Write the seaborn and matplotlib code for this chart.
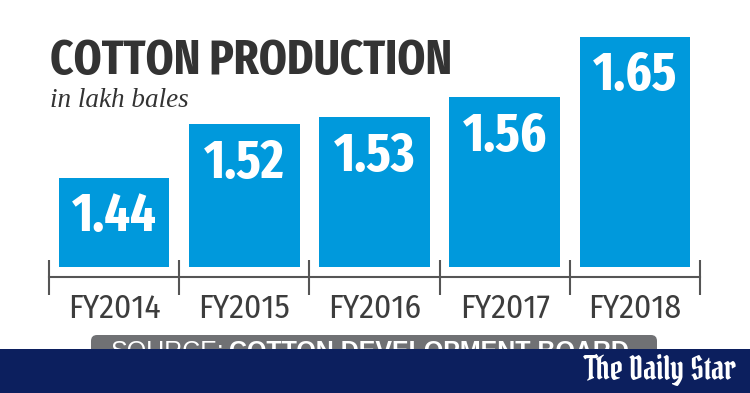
import matplotlib.pyplot as plt
import numpy as np
import seaborn as sns
from matplotlib.patches import FancyBboxPatch, Rectangle

years = ["FY2014", "FY2015", "FY2016", "FY2017", "FY2018"]
production = [1.44, 1.52, 1.53, 1.56, 1.65]
value_labels = ["1.44", "1.52", "1.53", "1.56", "1.65"]

BLUE = "#0099dc"
DARK = "#333333"
AXIS = "#555555"
NAVY = "#0c1f5e"
CONDENSED = ["Fira Sans Condensed", "Roboto Condensed", "DejaVu Sans"]
XCONDENSED = ["Fira Sans Extra Condensed", "Fira Sans Condensed", "DejaVu Sans"]
SERIF = ["Liberation Serif", "DejaVu Serif"]
SANS = ["Liberation Sans", "DejaVu Sans"]

sns.set_style("white")
plt.rcParams["font.family"] = CONDENSED

W, H = 750, 393
fig = plt.figure(figsize=(W / 100, H / 100), dpi=100)
fig.patch.set_facecolor("white")

# axes spans from first tick to last tick, bars sit on the axes bottom
ax = fig.add_axes([49 / W, 1 - 267 / H, 651 / W, 267 / H])
sns.barplot(x=years, y=production, color=BLUE, saturation=1, width=0.85,
            linewidth=0, ax=ax)
ax.set_xlim(-0.5, len(years) - 0.5)
ax.set_ylim(1.307, 1.705)
ax.set_facecolor("none")

for s in ["top", "left", "right"]:
    ax.spines[s].set_visible(False)
ax.spines["bottom"].set_position(("outward", 7.2))
ax.spines["bottom"].set_color(AXIS)
ax.spines["bottom"].set_linewidth(1.5)
ax.set_yticks([])
ax.set_xlabel("")
ax.set_ylabel("")

ax.set_xticks(np.arange(-0.5, len(years)), labels=[])
ax.set_xticks(np.arange(len(years)), labels=years, minor=True)
ax.tick_params(axis="x", which="major", bottom=True, direction="inout",
               length=25.2, width=1.5, color=AXIS)
ax.tick_params(axis="x", which="minor", bottom=True, length=0, pad=11,
               labelsize=24, labelcolor="#3d3d3d")

for bar, lab in zip(ax.patches, value_labels):
    ax.annotate(lab, (bar.get_x() + bar.get_width() / 2, bar.get_height()),
                xytext=(0, -9), textcoords="offset points",
                ha="center", va="top", color="white", fontsize=39,
                fontweight="bold", family=XCONDENSED, annotation_clip=False)

# title block
fig.text(50 / W, 1 - 74 / H, "COTTON PRODUCTION", fontsize=35,
         fontweight="bold", color=DARK, va="baseline", family=XCONDENSED)
fig.text(50 / W, 1 - 107 / H, "in lakh bales", fontsize=19.5, style="italic",
         color=DARK, va="baseline", family=SERIF)

# source box, partly hidden under the banner
box = FancyBboxPatch((91 / W, 1 - 365 / H), 566 / W, 30 / H,
                     boxstyle="round,pad=0,rounding_size=0.008",
                     mutation_aspect=W / H, transform=fig.transFigure,
                     facecolor="#707174", edgecolor="none", zorder=1)
fig.add_artist(box)
fig.text(111 / W, 1 - 359 / H, "SOURCE:", fontsize=18, color="white",
         va="baseline", family=SANS, zorder=2)
fig.text(229 / W, 1 - 359 / H, "COTTON DEVELOPMENT BOARD", fontsize=18,
         fontweight="bold", color="white", va="baseline", family=SANS,
         zorder=2)

banner = Rectangle((0, 0), 1, 44 / H, transform=fig.transFigure,
                   facecolor=NAVY, edgecolor="none", zorder=3)
fig.add_artist(banner)
fig.text(737 / W, 1 - 380 / H, "The Daily Star", fontsize=23,
         color="white", ha="right", va="baseline",
         family=["Pirata One", "Liberation Serif", "DejaVu Serif"], zorder=4)

fig.savefig("out.png", dpi=100)
plt.close(fig)
